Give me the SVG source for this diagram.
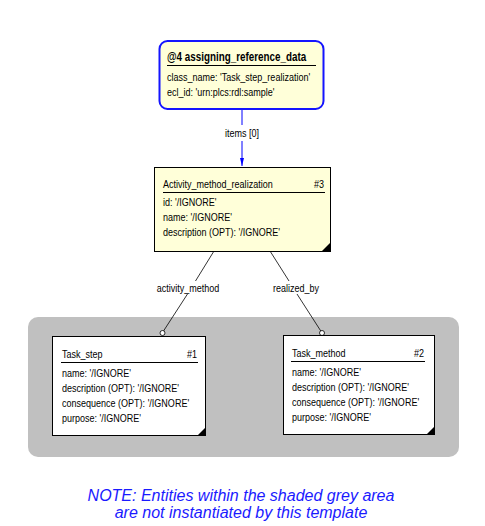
<svg xmlns="http://www.w3.org/2000/svg" width="485" height="526" viewBox="0 0 485 526">
<defs>
<style>
.t{font-family:"Liberation Sans",Arial,sans-serif;font-size:11px;fill:#000}
.tb{font-family:"Liberation Sans",Arial,sans-serif;font-size:12px;font-weight:bold;fill:#000}
.box{stroke:#000;stroke-width:1}
.ul{stroke:#000;stroke-width:1.2}
.con{stroke:#000;stroke-width:0.8;fill:none}
.note{font-family:"Liberation Sans",Arial,sans-serif;font-size:16px;font-style:italic;fill:#1a1aff}
</style>
<marker id="arr" viewBox="0 0 8 4" refX="8" refY="2" markerWidth="8" markerHeight="4" markerUnits="userSpaceOnUse" orient="auto">
<path d="M0,0 L8,2 L0,4 Z" fill="#0000ff"/>
</marker>
</defs>
<rect width="485" height="526" fill="#fff"/>
<rect id="shaded_area" x="28" y="317" width="431" height="140" rx="10" ry="10" fill="#c0c0c0"/>

<g id="connectors">
<line x1="242" y1="110" x2="242" y2="125" stroke="#0000ff" stroke-width="1"/>
<line x1="242" y1="141" x2="242" y2="166" stroke="#0000ff" stroke-width="1" marker-end="url(#arr)"/>
<text class="t" transform="translate(242 137) scale(0.82 1)" text-anchor="middle">items [0]</text>
<line class="con" x1="214" y1="251" x2="195.5" y2="281"/>
<line class="con" x1="187.5" y1="294" x2="163.5" y2="331"/>
<circle cx="162.5" cy="333" r="2.5" fill="#fff" stroke="#000" stroke-width="0.8"/>
<text class="t" transform="translate(188 292) scale(0.82 1)" text-anchor="middle">activity_method</text>
<line class="con" x1="270" y1="251" x2="289" y2="281"/>
<line class="con" x1="297" y1="294" x2="320.8" y2="331"/>
<circle cx="322" cy="333" r="2.5" fill="#fff" stroke="#000" stroke-width="0.8"/>
<text class="t" transform="translate(296 292) scale(0.82 1)" text-anchor="middle">realized_by</text>
</g>

<g id="node4">
<rect x="159.5" y="41" width="164" height="68" rx="8" ry="8" fill="#ffffd9" stroke="#1414ff" stroke-width="2"/>
<line class="ul" x1="167" y1="65.5" x2="316" y2="65.5"/>
<g transform="translate(167 0) scale(0.82 1)">
<text class="tb" x="0" y="61.5">@4 assigning_reference_data</text>
<text class="t" x="0" y="81.5">class_name: 'Task_step_realization'</text>
<text class="t" x="0" y="96">ecl_id: 'urn:plcs:rdl:sample'</text>
</g>
</g>

<g id="node3">
<rect class="box" x="154.5" y="167.5" width="176" height="84" fill="#ffffd9"/>
<path d="M330,243 L330,251 L322,251 Z" fill="#000"/>
<line class="ul" x1="163" y1="192.5" x2="325" y2="192.5"/>
<g transform="translate(163 0) scale(0.82 1)">
<text class="t" x="0" y="188">Activity_method_realization</text>
<text class="t" x="196.3" y="188" text-anchor="end">#3</text>
<text class="t" x="0" y="206.5">id: '/IGNORE'</text>
<text class="t" x="0" y="221.5">name: '/IGNORE'</text>
<text class="t" x="0" y="236.5">description (OPT): '/IGNORE'</text>
</g>
</g>

<g id="node1">
<rect class="box" x="52.5" y="336.5" width="153" height="99" fill="#fff"/>
<path d="M205,428 L205,435 L198,435 Z" fill="#000"/>
<line class="ul" x1="61" y1="362.5" x2="198" y2="362.5"/>
<g transform="translate(62 0) scale(0.82 1)">
<text class="t" x="0" y="358">Task_step</text>
<text class="t" x="164.6" y="358" text-anchor="end">#1</text>
<text class="t" x="0" y="377">name: '/IGNORE'</text>
<text class="t" x="0" y="392">description (OPT): '/IGNORE'</text>
<text class="t" x="0" y="407">consequence (OPT): '/IGNORE'</text>
<text class="t" x="0" y="422">purpose: '/IGNORE'</text>
</g>
</g>

<g id="node2">
<rect class="box" x="283.5" y="335.5" width="151" height="99" fill="#fff"/>
<path d="M434,427 L434,434 L427,434 Z" fill="#000"/>
<line class="ul" x1="291" y1="361.5" x2="425" y2="361.5"/>
<g transform="translate(292 0) scale(0.82 1)">
<text class="t" x="0" y="357">Task_method</text>
<text class="t" x="161" y="357" text-anchor="end">#2</text>
<text class="t" x="0" y="376">name: '/IGNORE'</text>
<text class="t" x="0" y="391">description (OPT): '/IGNORE'</text>
<text class="t" x="0" y="406">consequence (OPT): '/IGNORE'</text>
<text class="t" x="0" y="421">purpose: '/IGNORE'</text>
</g>
</g>

<g id="note">
<text class="note" x="241" y="501" text-anchor="middle">NOTE: Entities within the shaded grey area</text>
<text class="note" x="241" y="518" text-anchor="middle">are not instantiated by this template</text>
</g>
</svg>
